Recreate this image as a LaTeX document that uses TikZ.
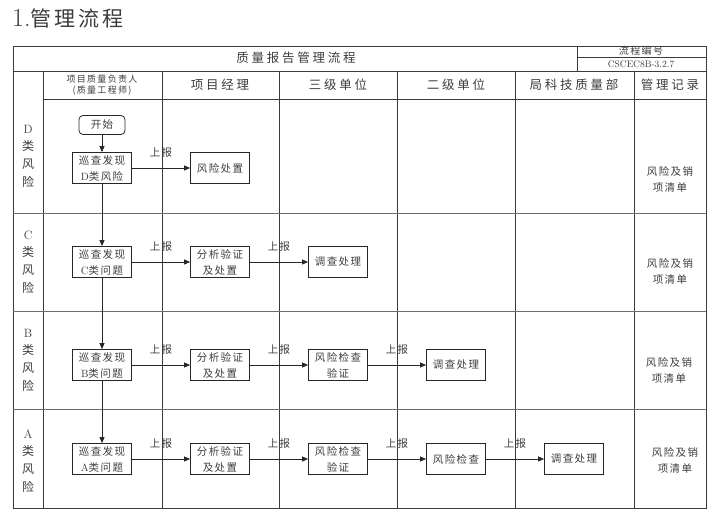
\documentclass[tikz,border=0pt]{standalone}
\usepackage{fontspec}
\usepackage{xcolor}
\usetikzlibrary{arrows.meta}
\newfontfamily\cjk[LetterSpace=14]{Noto Sans CJK SC}
\newfontfamily\cjkwide[LetterSpace=22]{Noto Sans CJK SC}
\definecolor{ink}{HTML}{262626}
\definecolor{txt}{HTML}{3C3C3C}
\definecolor{gridc}{HTML}{3A3A3A}
\definecolor{rowc}{HTML}{6E6E6E}
\tikzset{
  box/.style={draw=ink, line width=0.8pt, minimum width=59pt, minimum height=31pt,
    inner sep=1pt, align=center, text=txt, font=\cjk\fontsize{10.5}{16}\selectfont},
  startbox/.style={box, rounded corners=4pt, minimum width=46pt, minimum height=19pt},
  flow/.style={draw=ink, line width=0.7pt, -{Triangle[length=6pt,width=5pt]}},
  tag/.style={midway, yshift=15pt, text=txt, font=\cjk\fontsize{10.5}{12}\selectfont},
  head/.style={text=txt, font=\cjkwide\fontsize{12.5}{14}\selectfont},
  lane/.style={text=txt, align=center, font=\cjk\fontsize{12}{17.7}\selectfont},
  record/.style={text=txt, align=center, font=\cjk\fontsize{10.5}{16}\selectfont},
}
\newcommand{\report}[2]{\draw[flow] (#1) -- node[tag]{上报} (#2);}

\begin{document}
\begin{tikzpicture}[x=1pt, y=-1pt]
  \useasboundingbox (0,0) rectangle (718,515);
  % title
  \node[anchor=west, text=txt, inner sep=0pt] (title) at (12,18)
    {\fontsize{26}{28}\selectfont 1.{\cjk\fontsize{21}{24}\selectfont 管理流程}};
  % frame of the table
  \draw[gridc, line width=0.8pt] (13,46) rectangle (706,508);
  \draw[gridc, line width=0.8pt] (13,71) -- (706,71);
  \draw[gridc, line width=0.8pt] (577,46) -- (577,71);
  \draw[gridc, line width=0.6pt] (577,57) -- (706,57);
  \draw[gridc, line width=0.8pt] (43,99) -- (706,99);
  \foreach \x in {43,162,279,397,515,634}
    \draw[gridc, line width=0.8pt] (\x,71) -- (\x,508);
  \foreach \y in {213,311,409}
    \draw[rowc, line width=0.8pt] (13,\y) -- (706,\y);
  % headers
  \node[head] (sheet) at (296,58) {质量报告管理流程};
  \node[text=txt, font=\cjk\fontsize{10}{12}\selectfont] (codehd) at (641,51) {流程编号};
  \node[text=txt, font=\fontsize{9.5}{11}\selectfont] (code) at (641,64) {CSCEC8B-3.2.7};
  \node[text=txt, align=center, font=\cjk\fontsize{9}{11}\selectfont] (qe) at (102,85)
    {项目质量负责人\\(质量工程师)};
  \node[head] (pm) at (220,85) {项目经理};
  \node[head] (lv3) at (338,85) {三级单位};
  \node[head] (lv2) at (456,85) {二级单位};
  \node[head] (dept) at (574,85) {局科技质量部};
  \node[head] (rec) at (670,85) {管理记录};
  % lanes
  \node[lane] (laneD) at (28,156) {{\rmfamily D}\\类\\风\\险};
  \node[lane] (laneC) at (28,262) {{\rmfamily C}\\类\\风\\险};
  \node[lane] (laneB) at (28,360) {{\rmfamily B}\\类\\风\\险};
  \node[lane] (laneA) at (28,461) {{\rmfamily A}\\类\\风\\险};
  % D
  \node[startbox] (start) at (102,125) {开始};
  \node[box] (pD) at (102,168) {巡查发现\\{\rmfamily D}类风险};
  \node[box] (hD) at (220,168) {风险处置};
  % C
  \node[box] (pC) at (102,262) {巡查发现\\{\rmfamily C}类问题};
  \node[box] (aC) at (220,262) {分析验证\\及处置};
  \node[box] (iC) at (338,262) {调查处理};
  % B
  \node[box] (pB) at (102,365) {巡查发现\\{\rmfamily B}类问题};
  \node[box] (aB) at (220,365) {分析验证\\及处置};
  \node[box] (vB) at (338,365) {风险检查\\验证};
  \node[box] (iB) at (456,365) {调查处理};
  % A
  \node[box] (pA) at (102,459) {巡查发现\\{\rmfamily A}类问题};
  \node[box] (aA) at (220,459) {分析验证\\及处置};
  \node[box] (vA) at (338,459) {风险检查\\验证};
  \node[box] (cA) at (456,459) {风险检查};
  \node[box] (iA) at (574,459) {调查处理};
  % records
  \node[record] (recD) at (670,179) {风险及销\\项清单};
  \node[record] (recC) at (670,271) {风险及销\\项清单};
  \node[record] (recB) at (669,370) {风险及销\\项清单};
  \node[record] (recA) at (675,460) {风险及销\\项清单};
  % flow
  \draw[flow] (start) -- (pD);
  \draw[flow] (pD) -- (pC);
  \draw[flow] (pC) -- (pB);
  \draw[flow] (pB) -- (pA);
  \report{pD}{hD}
  \report{pC}{aC}
  \report{aC}{iC}
  \report{pB}{aB}
  \report{aB}{vB}
  \report{vB}{iB}
  \report{pA}{aA}
  \report{aA}{vA}
  \report{vA}{cA}
  \report{cA}{iA}
\end{tikzpicture}
\end{document}
